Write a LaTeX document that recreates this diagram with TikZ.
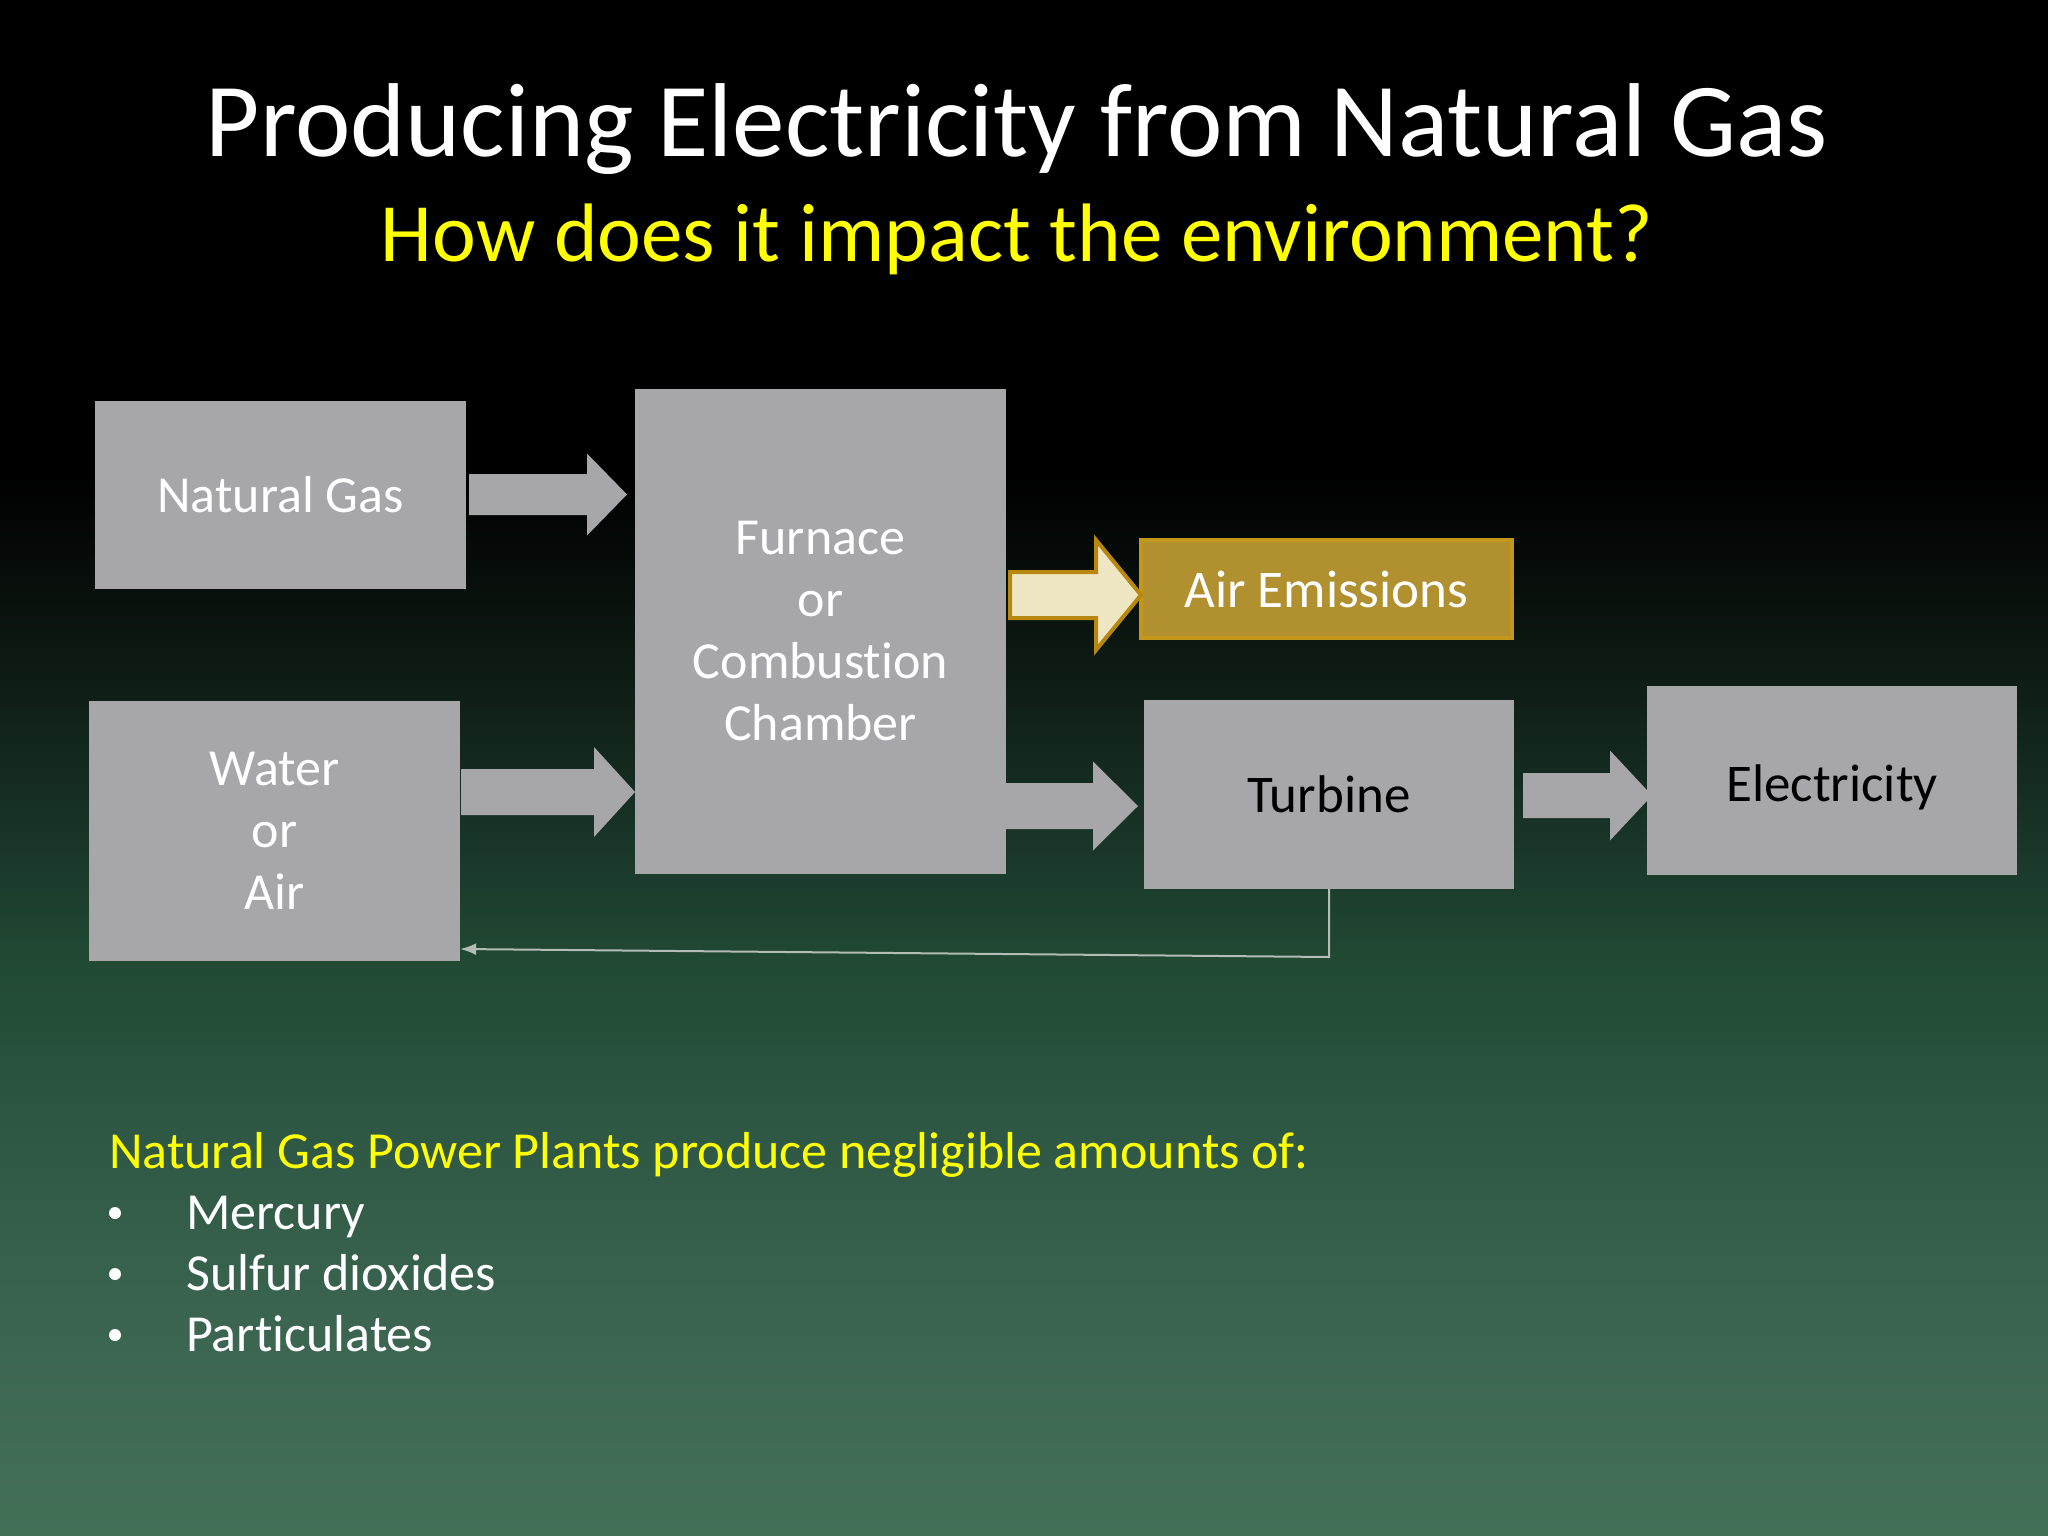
\documentclass[tikz,border=0pt]{standalone}
\usepackage{fontspec}
\setmainfont{Carlito}[Ligatures=NoCommon]
\usetikzlibrary{calc,arrows.meta}
\definecolor{boxgray}{HTML}{A7A6A8}
\definecolor{goldfill}{HTML}{B0902F}
\definecolor{goldline}{HTML}{C4961A}
\definecolor{creamfill}{HTML}{EFE6C4}
\definecolor{arrowgold}{HTML}{B8880E}
\definecolor{titleyellow}{HTML}{FFFF00}
\definecolor{feedline}{HTML}{B4BCB6}
\definecolor{bgA}{HTML}{446F57}
\definecolor{bgB}{HTML}{3A6450}
\definecolor{bgC}{HTML}{2C5642}
\definecolor{bgD}{HTML}{204833}
\definecolor{bgE}{HTML}{162E24}
\definecolor{bgF}{HTML}{0C1712}
% pgf maps 25bp..75bp of the shading onto the path's bottom..top
\pgfdeclareverticalshading{bgshade}{100bp}{color(0bp)=(bgA); color(25bp)=(bgA); color(32.5bp)=(bgB); color(39bp)=(bgC); color(44bp)=(bgD); color(49bp)=(bgE); color(54bp)=(bgF); color(59.5bp)=(black); color(75bp)=(black); color(100bp)=(black)}
% block arrow: x start, head start, tip, y center, shaft half, head half
\newcommand{\blockarr}[7][]{%
  \fill[#1] (#2,#5-#6) -- (#3,#5-#6) -- (#3,#5-#7) -- (#4,#5) -- (#3,#5+#7) -- (#3,#5+#6) -- (#2,#5+#6) -- cycle;}
\begin{document}
\begin{tikzpicture}[x=1pt,y=-1pt,
  box/.style={fill=boxgray, draw=none, inner sep=0pt, text=white, align=center,
    font=\fontsize{52}{62}\selectfont},
  darkbox/.style={box, text=black, font=\fontsize{53}{62}\selectfont},
  grayarrow/.style={fill=boxgray},
]
\useasboundingbox (0,0) rectangle (2048,1536);
\shade[shading=bgshade] (0,0) rectangle (2048,1536);

% titles
\node[anchor=base, text=white, font=\fontsize{105}{115}\selectfont, inner sep=0pt] (title) at (1017,157) {Producing Electricity from Natural Gas};
\node[anchor=base, text=titleyellow, font=\fontsize{83}{93}\selectfont, inner sep=0pt] (subtitle) at (1017,261) {How does it impact the environment?};

% boxes
\node[box, minimum width=371pt, minimum height=188pt] (ng) at (280.5,495) {Natural Gas};
\node[box, minimum width=371pt, minimum height=260pt] (wa) at (274.5,831) {Water\\or\\Air};
\node[box, minimum width=371pt, minimum height=485pt] (fu) at (820.5,631.5) {Furnace\\or\\Combustion\\Chamber};
\node[box, fill=goldfill, draw=goldline, line width=4pt, minimum width=371pt, minimum height=98pt, font=\fontsize{53}{62}\selectfont] (ae) at (1326.5,589) {Air Emissions};
\node[darkbox, minimum width=370pt, minimum height=189pt] (tu) at (1329,794.5) {Turbine};
\node[darkbox, minimum width=370pt, minimum height=189pt, text depth=0pt] (el) at (1832,780.5) {\raisebox{-5pt}{Electricity}};

% block arrows
\blockarr[grayarrow]{469}{587}{627}{494.5}{20.5}{41}
\blockarr[grayarrow]{461}{594}{635}{792}{23}{45}
\blockarr[grayarrow]{1006}{1093}{1138}{806}{23}{44.5}
\blockarr[grayarrow]{1523}{1610}{1652}{795.5}{22.5}{45}
\draw[fill=creamfill, draw=arrowgold, line width=4pt, line join=miter]
  (1010,572) -- (1096,572) -- (1096,540) -- (1141,595) -- (1096,650) -- (1096,618) -- (1010,618) -- cycle;

% feedback connector
\coordinate (fb) at (tu.south |- 0,957);
\draw[feedline, line width=2pt, -{Latex[length=16pt,width=12pt]}] (tu.south) -- (fb) -- (wa.east |- 0,949);

% bottom text
\node[anchor=base west, text=titleyellow, font=\fontsize{52}{60}\selectfont, inner sep=0pt] (note) at (109,1168) {Natural Gas Power Plants produce negligible amounts of:};
\foreach \y/\t/\n in {1229/Mercury/i1, 1290/Sulfur dioxides/i2, 1351/Particulates/i3}{
  \node[anchor=base west, text=white, font=\fontsize{52}{60}\selectfont, inner sep=0pt] (\n) at (186,\y) {\t};
  \fill[white] (115,\y-16) circle (6pt);
}
\end{tikzpicture}
\end{document}
